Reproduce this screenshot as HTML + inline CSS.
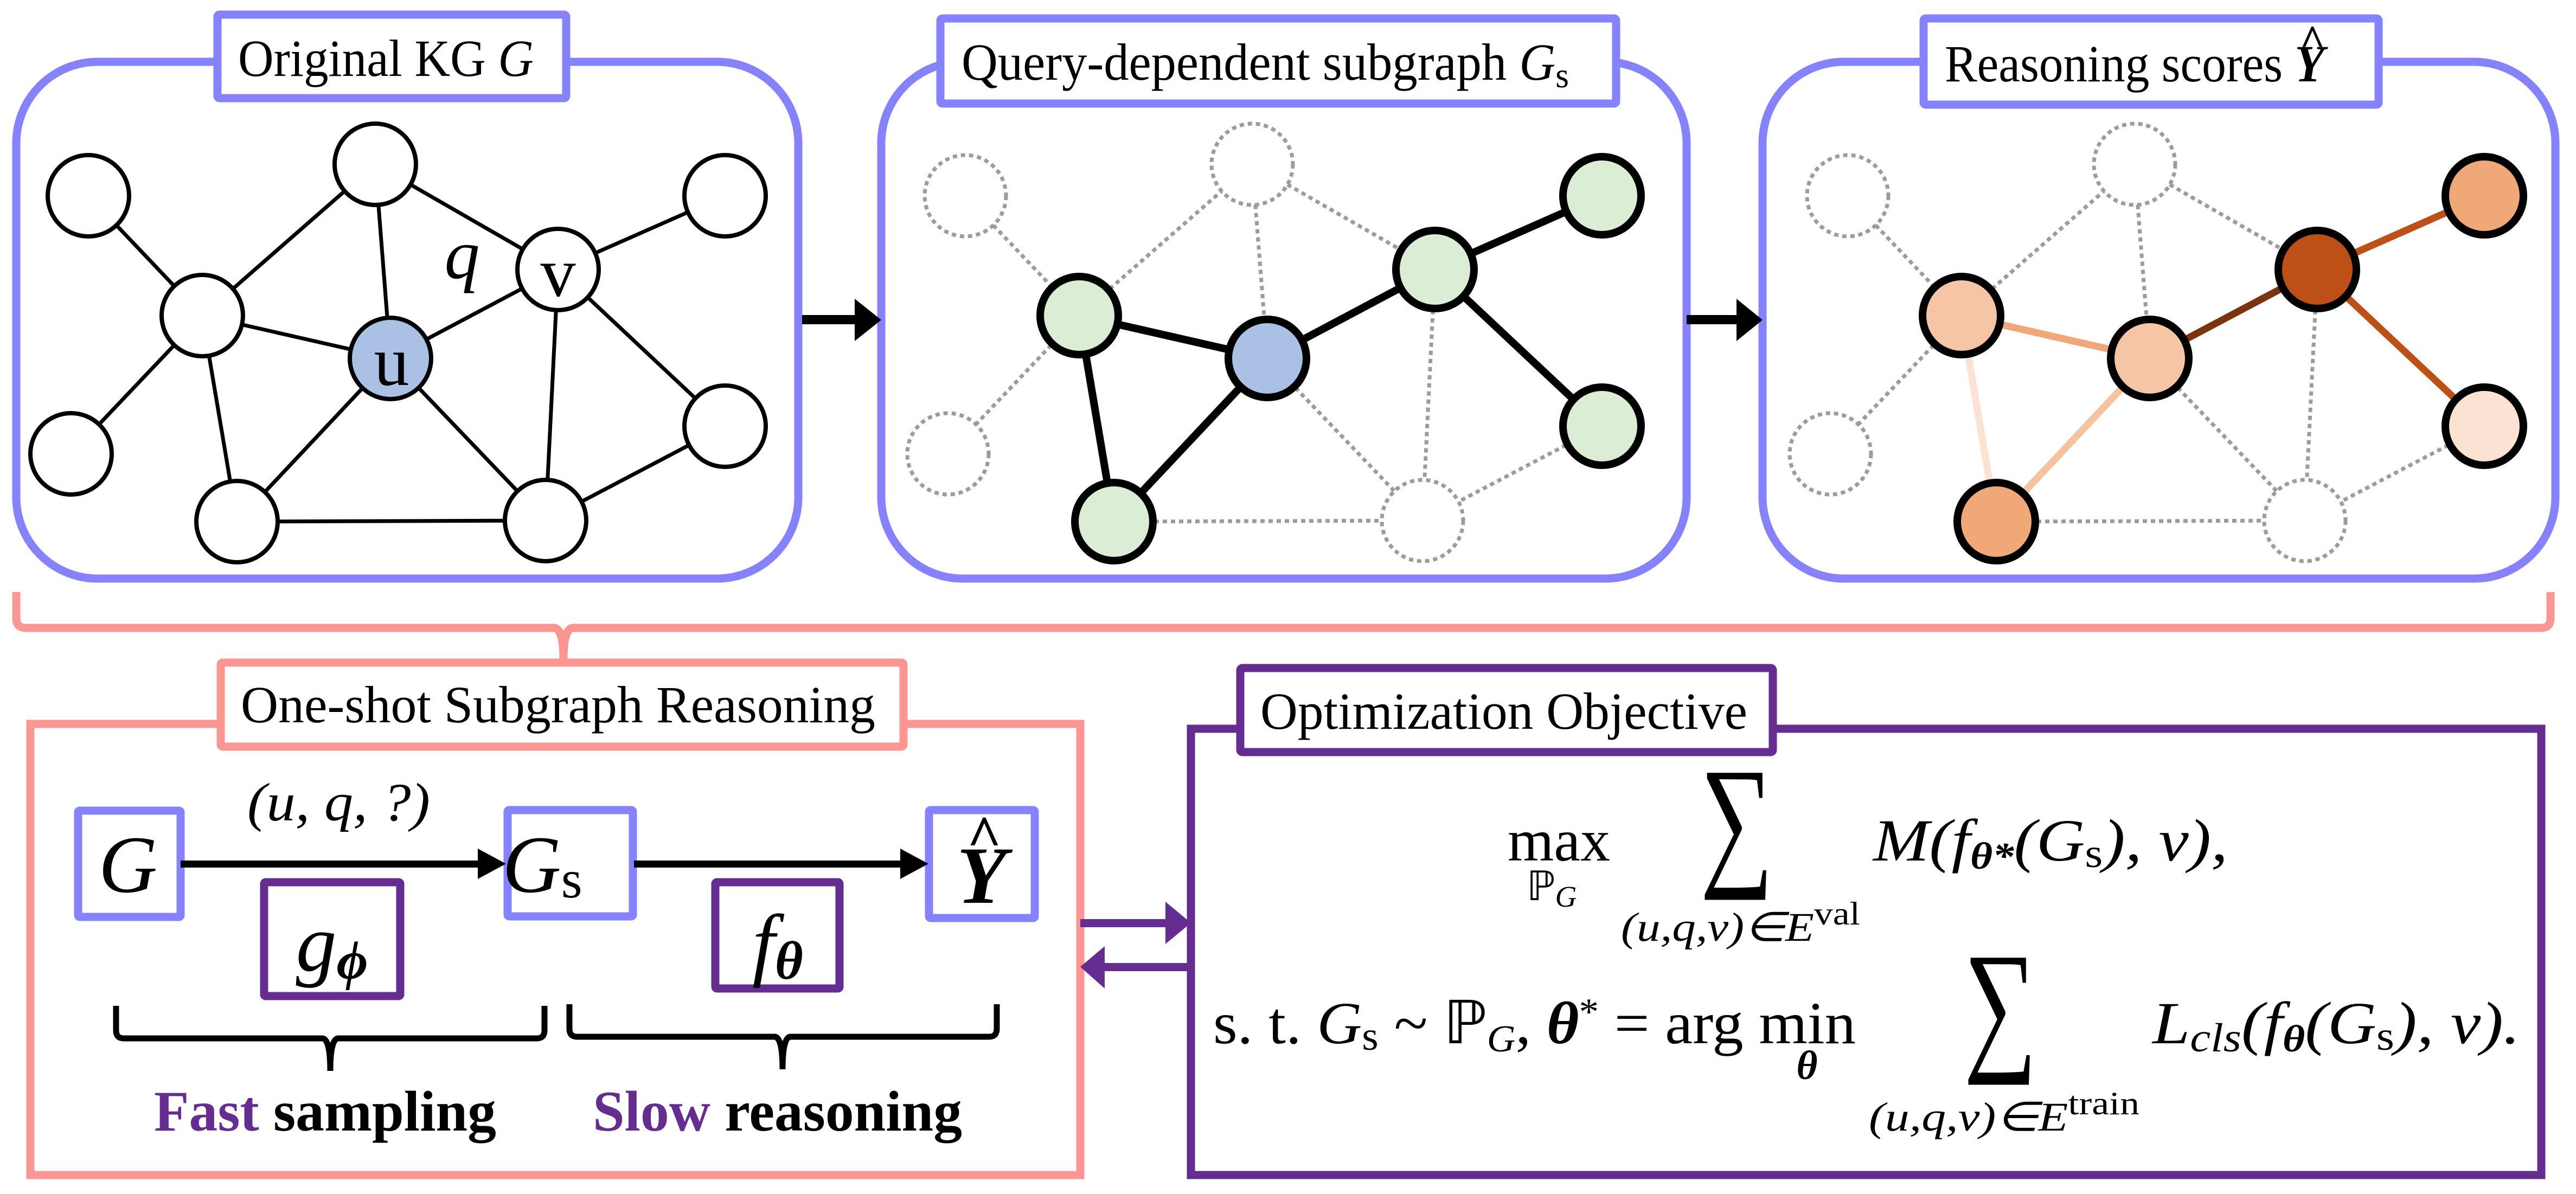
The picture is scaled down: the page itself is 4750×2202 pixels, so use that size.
<!DOCTYPE html>
<html><head><meta charset="utf-8"><style>html,body{margin:0;padding:0;background:#fff}svg{display:block}</style></head>
<body>
<svg width="4750" height="2202" viewBox="0 0 4750 2202" xmlns="http://www.w3.org/2000/svg" font-family="Liberation Serif, serif">
<defs>
<g id="e1" stroke="#000" stroke-width="7" fill="none">
<line x1="163" y1="361" x2="373" y2="582"/><line x1="373" y1="582" x2="692" y2="303"/>
<line x1="692" y1="303" x2="720" y2="661"/><line x1="692" y1="303" x2="1029" y2="497"/>
<line x1="1029" y1="497" x2="1337" y2="361"/><line x1="373" y1="582" x2="720" y2="661"/>
<line x1="720" y1="661" x2="1029" y2="497"/><line x1="373" y1="582" x2="131" y2="837"/>
<line x1="373" y1="582" x2="437" y2="962"/><line x1="720" y1="661" x2="437" y2="962"/>
<line x1="720" y1="661" x2="1006" y2="960"/><line x1="1029" y1="497" x2="1006" y2="960"/>
<line x1="1029" y1="497" x2="1337" y2="786"/><line x1="1337" y1="786" x2="1006" y2="960"/>
<line x1="437" y1="962" x2="1006" y2="960"/>
</g>
<g id="ed" stroke="#9c9c9c" stroke-width="7" stroke-dasharray="8 7" fill="none">
<line x1="163" y1="361" x2="373" y2="582"/><line x1="373" y1="582" x2="692" y2="303"/>
<line x1="692" y1="303" x2="720" y2="661"/><line x1="692" y1="303" x2="1029" y2="497"/>
<line x1="373" y1="582" x2="131" y2="837"/><line x1="720" y1="661" x2="1006" y2="960"/>
<line x1="1029" y1="497" x2="1006" y2="960"/><line x1="1337" y1="786" x2="1006" y2="960"/>
<line x1="437" y1="962" x2="1006" y2="960"/>
</g>
<g id="nd" fill="#fff" stroke="#9c9c9c" stroke-width="7" stroke-dasharray="8 7">
<circle cx="163" cy="361" r="75"/><circle cx="692" cy="303" r="75"/>
<circle cx="131" cy="837" r="75"/><circle cx="1006" cy="960" r="75"/>
</g>
</defs>

<g fill="none" stroke="#8582fb" stroke-width="15">
<rect x="30" y="114" width="1442" height="953" rx="150"/>
<rect x="1625" y="114" width="1485" height="953" rx="150"/>
<rect x="3250" y="114" width="1462" height="953" rx="150"/>
</g>
<g fill="#fff" stroke="#8582fb" stroke-width="15">
<rect x="401" y="27" width="643" height="154" rx="4"/>
<rect x="1734" y="34" width="1246" height="157" rx="4"/>
<rect x="3547" y="34" width="839" height="159" rx="4"/>
</g>
<text x="439" y="140" font-size="96" textLength="545" lengthAdjust="spacingAndGlyphs">Original KG <tspan font-style="italic">G</tspan></text>
<text x="1773" y="147" font-size="96" textLength="1120" lengthAdjust="spacingAndGlyphs">Query-dependent subgraph <tspan font-style="italic">G</tspan><tspan font-size="66" dy="14">s</tspan></text>
<text x="3586" y="150" font-size="96" textLength="700" lengthAdjust="spacingAndGlyphs">Reasoning scores <tspan font-weight="bold" font-style="italic">Y</tspan></text>
<text x="4264" y="102" font-size="80" font-weight="bold" text-anchor="middle">^</text>

<use href="#e1"/>
<g fill="#fff" stroke="#000" stroke-width="8">
<circle cx="163" cy="361" r="75"/><circle cx="692" cy="303" r="75"/><circle cx="1337" cy="361" r="75"/>
<circle cx="1029" cy="497" r="75"/><circle cx="373" cy="582" r="75"/>
<circle cx="720" cy="661" r="75" fill="#aac0e4"/>
<circle cx="131" cy="837" r="75"/><circle cx="1337" cy="786" r="75"/>
<circle cx="437" cy="962" r="75"/><circle cx="1006" cy="960" r="75"/>
</g>
<text x="722" y="710" font-size="130" text-anchor="middle">u</text>
<text x="1029" y="546" font-size="130" text-anchor="middle">v</text>
<text x="852" y="513" font-size="130" font-style="italic" text-anchor="middle">q</text>

<g transform="translate(1617,0)">
<use href="#ed"/><use href="#nd"/>
<g stroke="#000" stroke-width="14">
<line x1="373" y1="582" x2="720" y2="661"/><line x1="720" y1="661" x2="1029" y2="497"/>
<line x1="1029" y1="497" x2="1337" y2="361"/><line x1="1029" y1="497" x2="1337" y2="786"/>
<line x1="373" y1="582" x2="437" y2="962"/><line x1="720" y1="661" x2="437" y2="962"/>
</g>
<g fill="#dcedd5" stroke="#000" stroke-width="14">
<circle cx="373" cy="582" r="72"/><circle cx="1029" cy="497" r="72"/>
<circle cx="1337" cy="361" r="72"/><circle cx="1337" cy="786" r="72"/>
<circle cx="437" cy="962" r="72"/>
<circle cx="720" cy="661" r="72" fill="#aac0e4"/>
</g>
</g>

<g transform="translate(3244,0)">
<use href="#ed"/><use href="#nd"/>
<g stroke-width="13">
<line x1="373" y1="582" x2="720" y2="661" stroke="#f0a878"/>
<line x1="720" y1="661" x2="1029" y2="497" stroke="#7a3510"/>
<line x1="1029" y1="497" x2="1337" y2="361" stroke="#bc5016"/>
<line x1="1029" y1="497" x2="1337" y2="786" stroke="#bc5016"/>
<line x1="373" y1="582" x2="437" y2="962" stroke="#fbe2d2"/>
<line x1="720" y1="661" x2="437" y2="962" stroke="#f5c3a0"/>
</g>
<g stroke="#000" stroke-width="14">
<circle cx="373" cy="582" r="72" fill="#f5c5a5"/><circle cx="720" cy="661" r="72" fill="#f5c5a5"/>
<circle cx="1029" cy="497" r="72" fill="#bc5016"/><circle cx="1337" cy="361" r="72" fill="#f0a878"/>
<circle cx="1337" cy="786" r="72" fill="#fbe2d2"/><circle cx="437" cy="962" r="72" fill="#f0a878"/>
</g>
</g>

<g fill="#000">
<rect x="1479" y="581" width="100" height="17"/><polygon points="1576,551 1625,590 1576,629"/>
<rect x="3110" y="581" width="95" height="17"/><polygon points="3202,551 3250,590 3202,629"/>
</g>

<path d="M30,1092 L30,1140 Q30,1158 48,1158 L1022,1158 Q1039,1160 1039,1215 Q1039,1160 1056,1158 L4686,1158 Q4703,1158 4703,1140 L4703,1092" fill="none" stroke="#fc9693" stroke-width="15"/>

<rect x="56" y="1335" width="1936" height="832" fill="none" stroke="#fc9693" stroke-width="15"/>
<rect x="407" y="1222" width="1259" height="155" fill="#fff" stroke="#fc9693" stroke-width="15" rx="4"/>
<text x="444" y="1332" font-size="96" textLength="1170" lengthAdjust="spacingAndGlyphs">One-shot Subgraph Reasoning</text>

<g fill="#fff" stroke="#8582fb" stroke-width="15">
<rect x="144" y="1495" width="189" height="196" rx="3"/>
<rect x="936" y="1494" width="231" height="196" rx="3"/>
<rect x="1713" y="1494" width="195" height="199" rx="3"/>
</g>
<g fill="#fff" stroke="#662d91" stroke-width="15">
<rect x="487" y="1627" width="251" height="210" rx="3"/>
<rect x="1319" y="1627" width="229" height="196" rx="3"/>
</g>
<text x="236" y="1645" font-size="150" font-style="italic" text-anchor="middle">G</text>
<text x="1000" y="1645" font-size="150" font-style="italic" text-anchor="middle">G<tspan font-size="100" font-style="normal" dy="10">s</tspan></text>
<text x="1810" y="1665" font-size="150" font-weight="bold" font-style="italic" text-anchor="middle">Y</text>
<text x="1815" y="1580" font-size="110" font-weight="bold" text-anchor="middle">^</text>
<text x="612" y="1790" font-size="150" font-style="italic" text-anchor="middle">g<tspan font-size="100" font-weight="bold" dy="15">ϕ</tspan></text>
<text x="1434" y="1790" font-size="150" font-style="italic" text-anchor="middle">f<tspan font-size="100" font-weight="bold" dy="15">θ</tspan></text>
<text x="456" y="1513" font-size="100" font-style="italic" textLength="337" lengthAdjust="spacingAndGlyphs">(u, q, ?)</text>

<g fill="#000">
<rect x="333" y="1587" width="552" height="13"/><polygon points="881,1565 933,1593 881,1621"/>
<rect x="1169" y="1587" width="495" height="13"/><polygon points="1660,1565 1712,1593 1660,1621"/>
</g>

<g fill="none" stroke="#000" stroke-width="11">
<path d="M214,1855 L214,1900 Q214,1915 228,1915 L595,1915 Q609,1917 609,1975 Q609,1917 623,1915 L990,1915 Q1004,1915 1004,1900 L1004,1855"/>
<path d="M1050,1852 L1050,1897 Q1050,1912 1064,1912 L1429,1912 Q1443,1914 1443,1972 Q1443,1914 1457,1912 L1824,1912 Q1838,1912 1838,1897 L1838,1852"/>
</g>
<text x="284" y="2085" font-size="106" font-weight="bold" textLength="631" lengthAdjust="spacingAndGlyphs"><tspan fill="#662d91">Fast</tspan> sampling</text>
<text x="1093" y="2085" font-size="106" font-weight="bold" textLength="681" lengthAdjust="spacingAndGlyphs"><tspan fill="#662d91">Slow</tspan> reasoning</text>

<g fill="#662d91">
<rect x="1992" y="1695" width="160" height="15"/><polygon points="2149,1663 2196,1702 2149,1741"/>
<rect x="2034" y="1776" width="162" height="15"/><polygon points="2037,1745 1992,1783 2037,1823"/>
</g>

<rect x="2196" y="1344" width="2490" height="823" fill="none" stroke="#662d91" stroke-width="15"/>
<rect x="2287" y="1232" width="982" height="155" fill="#fff" stroke="#662d91" stroke-width="15" rx="4"/>
<text x="2324" y="1344" font-size="96" textLength="898" lengthAdjust="spacingAndGlyphs">Optimization Objective</text>

<g font-size="110">
<text x="2780" y="1587" textLength="189" lengthAdjust="spacingAndGlyphs">max</text>
<text x="2815" y="1660" font-size="75">ℙ<tspan font-style="italic" font-size="55" dy="12">G</tspan></text>
<text x="3135" y="1602" font-size="270" textLength="135" lengthAdjust="spacingAndGlyphs">∑</text>
<text x="2989" y="1735" font-size="75" font-style="italic" textLength="441" lengthAdjust="spacingAndGlyphs">(u,q,v)∈E<tspan font-style="normal" font-size="60" dy="-30">val</tspan></text>
<text x="3454" y="1587" font-style="italic" textLength="654" lengthAdjust="spacingAndGlyphs">M(f<tspan font-size="70" font-weight="bold" dy="15">θ*</tspan><tspan dy="-15">(G</tspan><tspan font-style="normal" font-size="75" dy="12">s</tspan><tspan dy="-12">), v),</tspan></text>

<text x="2237" y="1924" textLength="1185" lengthAdjust="spacingAndGlyphs">s. t. <tspan font-style="italic">G</tspan><tspan font-size="75" dy="12">s</tspan><tspan dy="-12"> ~ ℙ</tspan><tspan font-style="italic" font-size="70" dy="15">G</tspan><tspan dy="-15">, </tspan><tspan font-weight="bold" font-style="italic">θ</tspan><tspan font-size="70" dy="-35">*</tspan><tspan dy="35"> = arg min</tspan></text>
<text x="3332" y="1990" font-size="75" font-weight="bold" font-style="italic" text-anchor="middle">θ</text>
<text x="3621" y="1943" font-size="270" textLength="135" lengthAdjust="spacingAndGlyphs">∑</text>
<text x="3446" y="2085" font-size="75" font-style="italic" textLength="499" lengthAdjust="spacingAndGlyphs">(u,q,v)∈E<tspan font-style="normal" font-size="60" dy="-30">train</tspan></text>
<text x="3969" y="1924" font-style="italic" textLength="678" lengthAdjust="spacingAndGlyphs">L<tspan font-size="75" dy="15">cls</tspan><tspan dy="-15">(f</tspan><tspan font-size="70" font-weight="bold" dy="15">θ</tspan><tspan dy="-15">(G</tspan><tspan font-style="normal" font-size="75" dy="12">s</tspan><tspan dy="-12">), v).</tspan></text>
</g>
</svg>
</body></html>
